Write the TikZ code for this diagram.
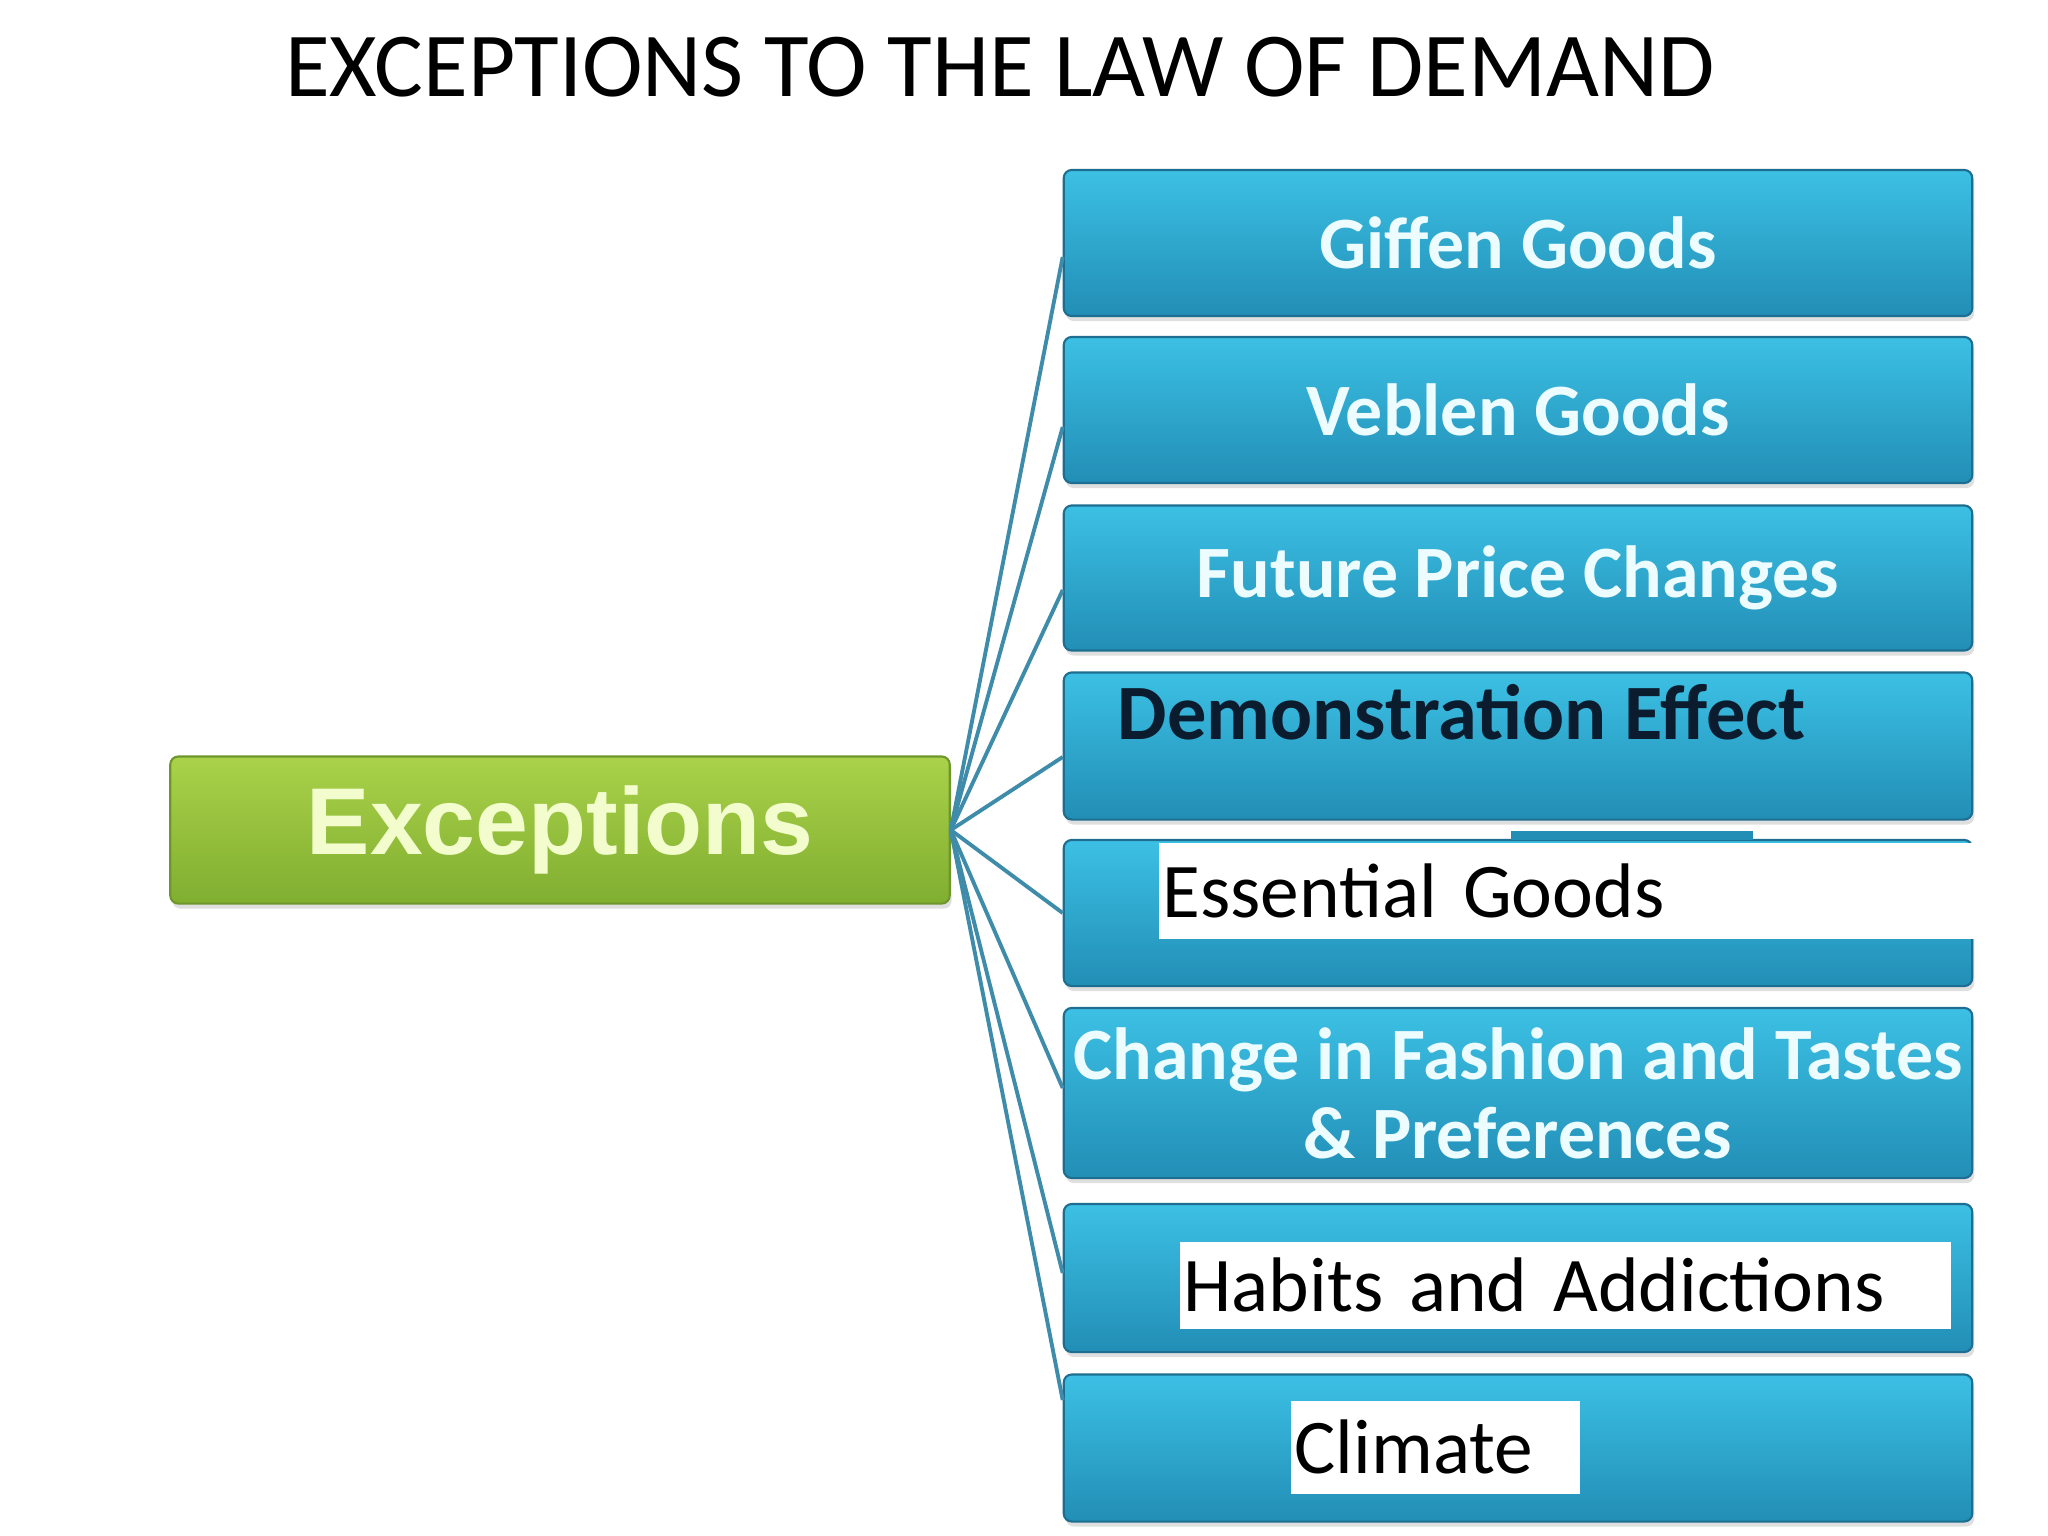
\documentclass[tikz,border=0pt]{standalone}
\usepackage{fontspec}
\setmainfont{Carlito}
\newfontfamily\arialfont{Liberation Sans}
\newfontfamily\plainfont[WordSpace=0.75]{Carlito}
\usepackage{xcolor}
\usepackage{tikz}
\usetikzlibrary{calc,positioning,shadows}
\definecolor{bluetop}{RGB}{60,192,228}
\definecolor{bluebot}{RGB}{34,142,182}
\definecolor{blueedge}{RGB}{30,110,145}
\definecolor{boxtext}{RGB}{236,252,255}
\definecolor{greentop}{RGB}{170,210,74}
\definecolor{greenbot}{RGB}{128,174,48}
\definecolor{greenedge}{RGB}{110,150,45}
\definecolor{gtext}{RGB}{242,252,205}
\definecolor{fanline}{RGB}{62,140,170}
\definecolor{navy}{RGB}{10,28,45}

\begin{document}
\begin{tikzpicture}[x=0.01cm,y=-0.01cm,
  cbox/.style={rectangle,rounded corners=0.08cm,minimum width=9.08cm,
    top color=bluetop,bottom color=bluebot,draw=blueedge,line width=0.6pt,
    text=boxtext,align=center,inner sep=0pt,
    font=\bfseries\fontsize{21}{22.5}\selectfont,
    drop shadow={shadow xshift=0.02cm,shadow yshift=-0.05cm,opacity=0.25}},
  gbox/.style={rectangle,rounded corners=0.08cm,minimum width=7.79cm,
    minimum height=1.47cm,top color=greentop,bottom color=greenbot,
    draw=greenedge,line width=0.6pt,text=gtext,
    font=\arialfont\bfseries\fontsize{27}{30}\selectfont,
    drop shadow={shadow xshift=0.02cm,shadow yshift=-0.05cm,opacity=0.25}},
  wbox/.style={rectangle,fill=white,anchor=north west,align=left,
    inner xsep=0.04cm,inner ysep=0pt,text=black,
    font=\plainfont\fontsize{22}{24}\selectfont},
  fan/.style={draw=fanline,line width=1.1pt}]
  \useasboundingbox (0,0) rectangle (2048,1536);
  \fill[white] (0,0) rectangle (2048,1536);
  \node[font=\fontsize{26}{29}\selectfont] (title) at (1000,67)
  {EXCEPTIONS TO THE LAW OF DEMAND};
  % 左边的绿色框
  \node[gbox] (ex) at (560,830) {Exceptions};
  % 右边的八个蓝色框
  \node[cbox,minimum height=1.46cm] (c1) at (1518,243) {Giffen Goods};
  \node[cbox,minimum height=1.46cm] (c2) at (1518,410) {Veblen Goods};
  \node[cbox,minimum height=1.45cm] (c3) at (1518,578) {Future Price Changes};
  \node[cbox,minimum height=1.47cm] (c4) at (1518,746) {};
  \node[cbox,minimum height=1.46cm] (c5) at (1518,913) {};
  \node[cbox,minimum height=1.70cm] (c6) at (1518,1093)
  {Change in Fashion and Tastes\\\& Preferences};
  \node[cbox,minimum height=1.48cm] (c7) at (1518,1278) {};
  \node[cbox,minimum height=1.47cm] (c8) at (1518,1448) {};
  \fill[bluebot] (1511,831) rectangle (1753,840);
  \node[anchor=west,inner sep=0pt,text=navy,
  font=\bfseries\fontsize{22.3}{24}\selectfont] (demo) at (1117,712)
  {Demonstration Effect};
  \node[wbox,text width=8.09cm,minimum height=0.96cm] (ess) at (1158,842)
  {Essential Goods};
  \node[wbox,text width=7.63cm,minimum height=0.87cm] (hab) at (1179,1241)
  {Habits and Addictions};
  \node[wbox,text width=2.81cm,minimum height=0.93cm] (cli) at (1290,1400)
  {Climate};
  % 从绿色框连到每个蓝色框
  \foreach \i/\dy in {1/-0.14,2/-0.17,3/-0.12,4/-0.11,5/0,6/0.05,7/0.05,8/0.48}
  \draw[fan] (ex.east) -- ([yshift=\dy cm]c\i.west);
\end{tikzpicture}
\end{document}
